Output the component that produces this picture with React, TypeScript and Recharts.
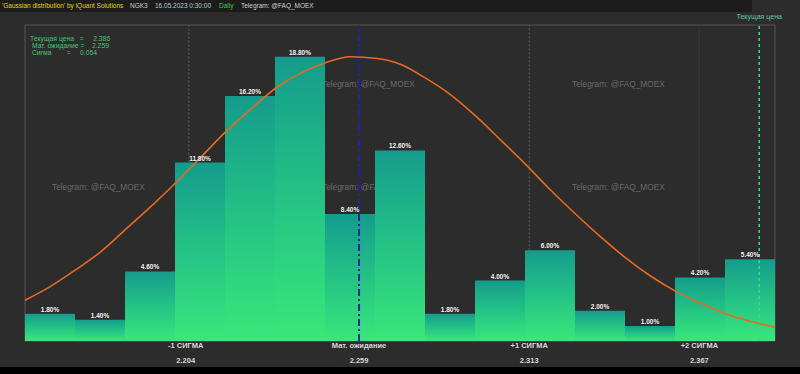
import React from "react";
import {
  ComposedChart,
  Bar,
  Line,
  XAxis,
  YAxis,
  ReferenceLine,
  ReferenceArea,
  LabelList,
} from "recharts";

// histogram bins (share of observations, %)
const binValues = [1.8, 1.4, 4.6, 11.8, 16.2, 18.8, 8.4, 12.6, 1.8, 4.0, 6.0, 2.0, 1.0, 4.2, 5.4];
const binNames = ["b1", "b2", "b3", "b4", "b5", "b6", "b7", "b8", "b9", "b10", "b11", "b12", "b13", "b14", "b15"];

// normal curve
const curveX = [
  2.153, 2.161, 2.169, 2.177, 2.185, 2.193, 2.201, 2.209, 2.2165, 2.2245, 2.2324,
  2.2403, 2.2483, 2.2562, 2.2642, 2.2721, 2.28, 2.288, 2.2959, 2.3039, 2.3118,
  2.3197, 2.3277, 2.3356, 2.3436, 2.3515, 2.3594, 2.3674, 2.3753, 2.3833, 2.3912,
];
const curveY = [
  2.7, 3.6, 4.7, 5.9, 7.4, 8.9, 10.5, 12.2, 13.8, 15.3, 16.7,
  17.7, 18.4, 18.8, 18.7, 18.3, 17.4, 16.3, 14.9, 13.3, 11.7,
  10.0, 8.4, 6.9, 5.5, 4.3, 3.3, 2.5, 1.8, 1.3, 0.9,
];

const sigmaTicks = [2.204, 2.259, 2.313, 2.367];
const sigmaNames = ["-1 СИГМА", "Мат. ожидание", "+1 СИГМА", "+2 СИГМА"];

const currentPrice = 2.386;
const mean = 2.259;
const sigma = 0.054;
const xMin = 2.153;
const xMax = 2.391;
const yMax = 20.9;

const barData = binNames.map((n, i) => ({ name: n, v: binValues[i] }));
const curveData = curveX.map((x, i) => ({ x, y: curveY[i] }));

// height of the bin under a given price, so grid lines stay behind the bars
const binWidth = (xMax - xMin) / binValues.length;
const binAt = (x: number) => binValues[Math.min(binValues.length - 1, Math.floor((x - xMin) / binWidth))];

const font = "'Liberation Sans', Arial, sans-serif";

function SigmaTick(props: any) {
  const { x, y, payload } = props;
  const idx = sigmaTicks.indexOf(payload.value);
  return (
    <g>
      <text x={x} y={y - 1} textAnchor="middle" fill="#d8d8d8" fontSize={7.5} fontWeight="bold" fontFamily={font}>
        {sigmaNames[idx]}
      </text>
      <text x={x} y={y + 14} textAnchor="middle" fill="#d8d8d8" fontSize={7.5} fontWeight="bold" fontFamily={font}>
        {payload.value.toFixed(3)}
      </text>
    </g>
  );
}

const watermarks = [
  { left: 52, top: 182 },
  { left: 322, top: 79 },
  { left: 322, top: 182 },
  { left: 572, top: 79 },
  { left: 572, top: 182 },
];

const gridLines = [mean - sigma, mean + sigma];

export default function App() {
  return (
    <div style={{ position: "relative", width: 800, height: 374, background: "#2c2c2c", overflow: "hidden", fontFamily: font }}>
      <style>{"body{margin:0}"}</style>
      <div style={{ position: "absolute", left: 0, top: 0, width: 752, height: 12, background: "#1c1c1c" }} />
      <div style={{ position: "absolute", left: 0, top: 367, width: 800, height: 7, background: "#000" }} />
      <div style={{ position: "absolute", left: 2, top: 0, fontSize: 6.5, lineHeight: "11px", whiteSpace: "pre", color: "#e3d21a" }}>
        'Gaussian distribution' by iQuant Solutions
      </div>
      <div style={{ position: "absolute", left: 130, top: 0, fontSize: 6.5, lineHeight: "11px", color: "#cfcfcf" }}>NGK3</div>
      <div style={{ position: "absolute", left: 155, top: 0, fontSize: 6.5, lineHeight: "11px", color: "#a8ccd4" }}>16.05.2023 0:30:00</div>
      <div style={{ position: "absolute", left: 219, top: 0, fontSize: 6.5, lineHeight: "11px", color: "#3fd03a" }}>Daily</div>
      <div style={{ position: "absolute", left: 241, top: 0, fontSize: 6.5, lineHeight: "11px", color: "#d0d0d0" }}>Telegram: @FAQ_MOEX</div>
      {watermarks.map((w, i) => (
        <div key={i} style={{ position: "absolute", left: w.left, top: w.top, color: "#6a6a6a", fontSize: 8.3, whiteSpace: "nowrap" }}>
          Telegram: @FAQ_MOEX
        </div>
      ))}
      <div style={{ position: "absolute", left: 0, top: 0 }}>
        <ComposedChart
          width={800}
          height={374}
          data={barData}
          margin={{ top: 25, right: 25, bottom: 0, left: 25 }}
          barCategoryGap={0}
          barGap={0}
        >
          <defs>
            <linearGradient id="barGrad" x1="0" y1="0" x2="0" y2="1">
              <stop offset="0%" stopColor="#159b8c" />
              <stop offset="45%" stopColor="#22bf86" />
              <stop offset="100%" stopColor="#3ae77a" />
            </linearGradient>
          </defs>
          <XAxis xAxisId="bins" dataKey="name" hide height={0} />
          <XAxis
            xAxisId="v"
            dataKey="x"
            type="number"
            domain={[xMin, xMax]}
            allowDataOverflow
            ticks={sigmaTicks}
            tick={<SigmaTick />}
            axisLine={false}
            tickLine={false}
            height={33}
            interval={0}
          />
          <YAxis hide domain={[0, yMax]} allowDataOverflow />
          <ReferenceArea xAxisId="v" x1={xMin} x2={xMax} y1={0} y2={yMax} fill="none" stroke="#555" strokeWidth={1} />
          {gridLines.map((gx) => (
            <ReferenceLine
              key={gx}
              xAxisId="v"
              segment={[{ x: gx, y: binAt(gx) }, { x: gx, y: yMax }]}
              stroke="#6a6a6a"
              strokeDasharray="2 2"
              strokeWidth={0.8}
            />
          ))}
          <ReferenceLine
            xAxisId="v"
            segment={[{ x: mean + 2 * sigma, y: binAt(mean + 2 * sigma) }, { x: mean + 2 * sigma, y: yMax }]}
            stroke="#3a3a3a"
            strokeWidth={0.8}
          />
          <Bar xAxisId="bins" dataKey="v" fill="url(#barGrad)" isAnimationActive={false}>
            <LabelList
              dataKey="v"
              position="top"
              offset={2}
              formatter={(v: any) => Number(v).toFixed(2) + "%"}
              fill="#f2f2f2"
              fontSize={6.5}
              fontWeight="bold"
              fontFamily={font}
            />
          </Bar>
          <ReferenceLine xAxisId="v" x={mean} stroke="#2222a8" strokeWidth={2} strokeDasharray="7 3 2 3" />
          <ReferenceLine
            xAxisId="v"
            x={currentPrice}
            stroke="#3ed88a"
            strokeWidth={1.5}
            strokeDasharray="3 3"
            label={{ value: "Текущая цена", position: "top", fill: "#5cc8a0", fontSize: 7, offset: 6, fontFamily: font }}
          />
          <Line
            xAxisId="v"
            data={curveData}
            dataKey="y"
            type="monotone"
            stroke="#e8691f"
            strokeWidth={1.6}
            dot={false}
            isAnimationActive={false}
          />
        </ComposedChart>
      </div>
      <div style={{ position: "absolute", left: 30, top: 36, color: "#46c46e", fontSize: 6.8, lineHeight: "6.8px", whiteSpace: "pre" }}>
        <div>{"Текущая цена   =     2.386"}</div>
        <div>{" Мат. ожидание =    2.259"}</div>
        <div>{" Сигма        =     0.054"}</div>
      </div>
    </div>
  );
}
